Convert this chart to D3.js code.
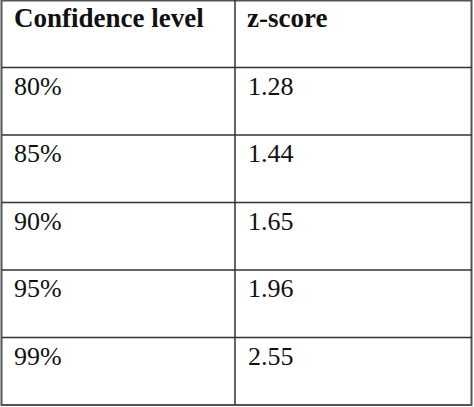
<!DOCTYPE html>
<html><head><meta charset="utf-8">
<script src="https://cdn.jsdelivr.net/npm/d3@7"></script>
<style>body{margin:0;background:#fff}</style>
</head><body>
<svg id="t" width="474" height="407"></svg>
<script>
var headers = ["Confidence level", "z-score"];
var levels = ["80%", "85%", "90%", "95%", "99%"];
var zscores = ["1.28", "1.44", "1.65", "1.96", "2.55"];

var svg = d3.select("#t");
var rows = [headers].concat(levels.map(function(l, i){ return [l, zscores[i]]; }));
var y = d3.scaleBand().domain(d3.range(rows.length)).range([0, 405]);
var x = d3.scaleOrdinal().domain([0, 1]).range([2, 235]);

svg.append("rect").attr("x", 1.5).attr("y", 0.5).attr("width", 470).attr("height", 404.5)
	.attr("fill", "none").attr("stroke", "#555").attr("stroke-width", 2);
svg.append("line").attr("x1", 235).attr("x2", 235).attr("y1", 0).attr("y2", 405)
	.attr("stroke", "#333").attr("stroke-width", 1.5);
svg.selectAll("line.row").data(d3.range(1, rows.length)).enter().append("line")
	.attr("class", "row").attr("x1", 2).attr("x2", 472)
	.attr("y1", function(d){ return y(d); }).attr("y2", function(d){ return y(d); })
	.attr("stroke", "#333").attr("stroke-width", 1.5);

rows.forEach(function(r, i){
	r.forEach(function(c, j){
		svg.append("text")
			.attr("x", x(j) + 12 + (i > 0 && j == 1 ? 1 : 0))
			.attr("y", y(i) + 27)
			.attr("font-family", "'Liberation Serif', 'Times New Roman', serif")
			.attr("font-size", i == 0 ? 27 : 26)
			.attr("font-weight", i == 0 ? "bold" : "normal")
			.attr("fill", "#111")
			.text(c);
	});
});
</script>
</body></html>
